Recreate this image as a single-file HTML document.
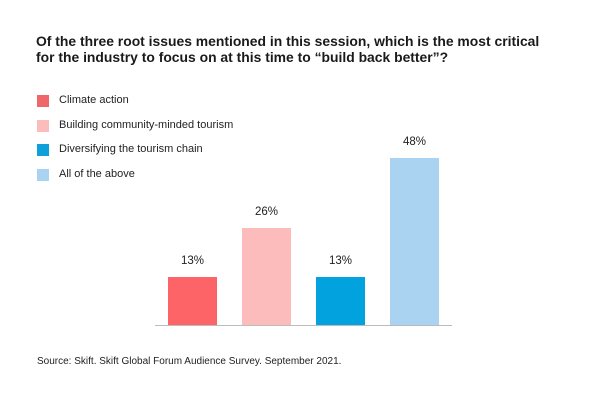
<!DOCTYPE html>
<html><head><style>
body{margin:0;width:600px;height:400px;background:#fff;font-family:"Liberation Sans",sans-serif;color:#111;position:relative;overflow:hidden}
.t{position:absolute;left:36px;top:33px;font-size:13.9px;font-weight:bold;line-height:16px;color:#1a1a1a}
.sq{position:absolute;left:37px;width:12px;height:12px}
.lg{position:absolute;left:59px;font-size:11px;color:#222}
.b{position:absolute;width:49px}
.v{position:absolute;width:49px;text-align:center;font-size:11.5px;color:#222}
.src{position:absolute;left:37px;top:356px;font-size:10px;color:#222}
</style></head><body>
<div class="t">Of the three root issues mentioned in this session, which is the most critical<br>for the industry to focus on at this time to “build back better”?</div>
<div class="sq" style="top:95px;background:#f0676a"></div><div class="lg" style="top:94px">Climate action</div>
<div class="sq" style="top:120px;background:#fbbcbc"></div><div class="lg" style="top:119px">Building community-minded tourism</div>
<div class="sq" style="top:144px;background:#0fa0da"></div><div class="lg" style="top:143px">Diversifying the tourism chain</div>
<div class="sq" style="top:169px;background:#a9d3f0"></div><div class="lg" style="top:168px">All of the above</div>
<div style="position:absolute;left:155px;top:325px;width:297px;height:1px;background:#bbb"></div>
<div class="b" style="left:168px;top:277px;height:48px;background:#fd6467"></div>
<div class="b" style="left:242px;top:228px;height:97px;background:#fdbcbc"></div>
<div class="b" style="left:316px;top:277px;height:48px;background:#02a2df"></div>
<div class="b" style="left:390px;top:158px;height:167px;background:#a9d3f1"></div>
<div class="v" style="left:168px;top:255px">13%</div>
<div class="v" style="left:242px;top:206px">26%</div>
<div class="v" style="left:316px;top:255px">13%</div>
<div class="v" style="left:390px;top:136px">48%</div>
<div class="src">Source: Skift. Skift Global Forum Audience Survey. September 2021.</div>
</body></html>
